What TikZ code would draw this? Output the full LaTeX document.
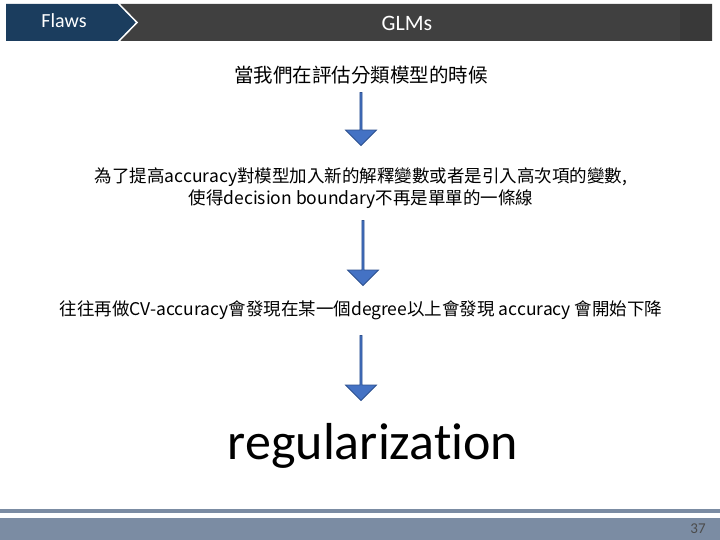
\documentclass[tikz,border=0pt]{standalone}
\usepackage{fontspec}
\setmainfont{Carlito}[Ligatures=NoCommon]
\newfontfamily\cjk{Noto Sans CJK TC}
\usetikzlibrary{shapes.arrows}
\definecolor{hdrblue}{HTML}{1B3D5E}
\definecolor{hdrgray}{HTML}{404040}
\definecolor{footc}{HTML}{7B8CA3}
\definecolor{arrfill}{HTML}{4472C4}
\definecolor{arrline}{HTML}{2F528F}
\tikzset{
  txt/.style={font=\cjk\fontsize{17.5}{22}\selectfont, align=center, inner sep=0},
  barrow/.style={single arrow, shape border rotate=270, draw=arrline, fill=arrfill, line width=0.8pt,
     minimum width=31pt, single arrow head extend=5.5pt, single arrow tip angle=90, inner sep=0}
}
\begin{document}
\begin{tikzpicture}[x=1pt,y=-1pt]
\useasboundingbox (0,0) rectangle (720,540);
\fill[white] (0,0) rectangle (720,540);
% header
\fill[hdrgray] (118,4) -- (712,4) -- (712,41) -- (118,41) -- (137,22.5) -- cycle;
\fill[black!80,opacity=0.5] (680,4) rectangle (712,41);
\fill[hdrblue] (6,4) -- (118,4) -- (137,22.5) -- (118,41) -- (6,41) -- cycle;
\draw[white,line width=1.5pt] (118,3) -- (137,22.5) -- (118,42);
\node[font=\fontsize{20}{22}\selectfont, text=white] (flaws) at (64,21) {Flaws};
\node[font=\fontsize{22}{24}\selectfont, text=white] (glms) at (407,23) {GLMs};
% footer
\fill[footc] (0,509) rectangle (720,513);
\fill[footc] (0,518) rectangle (720,540);
\node[font=\fontsize{15}{16}\selectfont, text=black!70] (num) at (698,529) {37};
% content
\node[txt, font=\cjk\fontsize{19.5}{22}\selectfont] (t1) at (361,75) {當我們在評估分類模型的時候};
\node[txt] (t2) at (361,188) {為了提高accuracy對模型加入新的解釋變數或者是引入高次項的變數,\\使得decision boundary不再是單單的一條線};
\node[txt] (t3) at (361,310) {往往再做CV-accuracy會發現在某一個degree以上會發現 accuracy 會開始下降};
\node[font=\fontsize{52}{56}\selectfont, inner sep=0] (t4) at (373,446) {regularization};
\node[barrow, minimum height=53pt] (a1) at (361,118.5) {};
\node[barrow, minimum height=65pt] (a2) at (363,252.5) {};
\node[barrow, minimum height=65pt] (a3) at (361,367.5) {};
\end{tikzpicture}
\end{document}
